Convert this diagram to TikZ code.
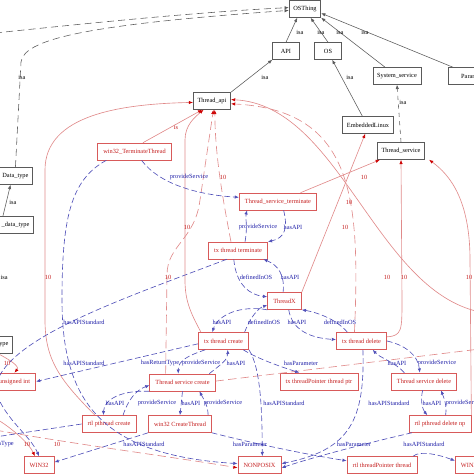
\documentclass[tikz,border=0pt]{standalone}
\usepackage{fontspec}
\setmainfont{Liberation Serif}
\usetikzlibrary{arrows.meta}

\definecolor{clsline}{HTML}{5A5A5A}
\definecolor{instline}{HTML}{D85A5A}
\definecolor{insttext}{HTML}{C41E1E}
\definecolor{relline}{HTML}{5050B8}
\definecolor{reltext}{HTML}{2020A8}
\definecolor{wtline}{HTML}{E08A8A}

\tikzset{
  tip/.style={-{Latex[length=3pt,width=2.4pt,color=#1]}},
  cls/.style={draw=clsline,line width=0.5pt,minimum height=12pt,minimum width=19pt,inner xsep=3pt,inner ysep=1pt},
  inst/.style={draw=instline,text=insttext,line width=0.5pt,minimum height=12pt,inner xsep=4pt,inner ysep=1pt},
  isa/.style={draw=clsline,line width=0.4pt,tip=clsline},
  rel/.style={draw=relline,line width=0.45pt,dash pattern=on 4pt off 2pt,tip=relline},
  wt/.style={draw=wtline,line width=0.45pt,tip=red!80!black},
  wtd/.style={wt,dash pattern=on 6pt off 3pt},
  blbl/.style={text=reltext,inner sep=0pt},
  rlbl/.style={text=insttext,inner sep=0pt},
  klbl/.style={text=black,inner sep=0pt},
}

\begin{document}
\begin{tikzpicture}[x=0.025cm,y=-0.025cm,every node/.style={font=\fontsize{4.5}{5}\selectfont}]
  \useasboundingbox (0,0) rectangle (474,474);

  % classes
  \node[cls,minimum width=22pt] (osthing) at (305,9) {OSThing};
  \node[cls] (api) at (286,51) {API};
  \node[cls] (os) at (328,51) {OS};
  \node[cls] (syssrv) at (397,76) {System\_service};
  \node[cls,minimum width=36pt] (param) at (474,76) {Parameter};
  \node[cls] (thrapi) at (212,101) {Thread\_api};
  \node[cls] (embl) at (368,125) {EmbeddedLinux};
  \node[cls] (thrsrv) at (401,151) {Thread\_service};
  \node[cls,anchor=east] (dtype) at (33,176) {Data\_type};
  \node[cls,anchor=east] (bdtype) at (34,225) {\_data\_type};
  \node[cls,anchor=east,text width=22pt,align=right] (rtype) at (13,345) {ype};

  % instances
  \node[inst] (w32term) at (134.5,151.5) {win32\_TerminateThread};
  \node[inst] (tsterm) at (278,201.5) {Thread\_service\_terminate};
  \node[inst] (txterm) at (238,250.5) {tx thread terminate};
  \node[inst] (threadx) at (284.5,301) {ThreadX};
  \node[inst] (txcreate) at (223.5,341) {tx thread create};
  \node[inst] (txdelete) at (361.5,341) {tx thread delete};
  \node[inst] (tscreate) at (182.5,382.5) {Thread service create};
  \node[inst] (txptr) at (319,381.5) {tx threadPointer thread ptr};
  \node[inst] (tsdelete) at (424,381.5) {Thread service delete};
  \node[inst,anchor=east] (uint) at (36,381.5) {unsigned int};
  \node[inst] (rtlcreate) at (109,424) {rtl pthread create};
  \node[inst] (w32create) at (180,424) {win32 CreateThread};
  \node[inst] (rtldelete) at (440,424) {rtl pthread delete np};
  \node[inst] (win32a) at (39,465) {WIN32};
  \node[inst] (nonposix) at (259.5,465) {NONPOSIX};
  \node[inst] (rtlptr) at (382,465) {rtl threadPointer thread};
  \node[inst,anchor=west] (win32b) at (455,465) {WIN32};

  \coordinate (offl1) at (-5,33);
  \coordinate (offl2) at (-5,437);
  \coordinate (offl3) at (-5,418);
  \coordinate (offl4) at (-5,430);
  \coordinate (offl5) at (-5,352);
  \coordinate (offr1) at (480,312);
  \coordinate (offr2) at (480,349);

  % isa
  \draw[isa] (api.north) -- ([xshift=-5.5pt]osthing.south);
  \draw[isa] (os.north) -- ([xshift=4pt]osthing.south);
  \draw[isa] ([xshift=-8.5pt]syssrv.north) -- (osthing.south east);
  \draw[isa] ([xshift=-15pt]param.north) -- ([yshift=-3pt]osthing.east);
  \draw[isa] (thrapi.north east) -- (api.south west);
  \draw[isa] ([xshift=-4pt]embl.north) -- ([xshift=3pt]os.south);
  \draw[isa,dashed] (thrsrv.north) -- (syssrv.south);
  \draw[isa,dash pattern=on 5pt off 3pt] (dtype.north) -- (21,62) .. controls (24,40) and (80,25) .. ([yshift=-1pt]osthing.west);
  \draw[isa,dash pattern=on 5pt off 3pt] (offl1) .. controls (100,22) and (200,12) .. ([yshift=1pt]osthing.west);
  \draw[isa] ([xshift=-9pt]bdtype.north) -- ([xshift=-3.5pt]dtype.south);

  % weights
  \draw[wt] ([xshift=6pt]w32term.north) -- ([xshift=-7pt]thrapi.south);
  \draw[wt] ([xshift=-10pt]rtlcreate.north) .. controls (60,380) and (45,360) .. (45,320) -- (45,170) .. controls (45,115) and (120,104) .. ([yshift=-1pt]thrapi.west);
  \draw[wt] ([xshift=-16pt]txcreate.north) .. controls (190,312) and (185,300) .. (185,280) -- (185,140) .. controls (185,125) and (195,117) .. ([xshift=-6pt]thrapi.south);
  \draw[wtd] ([xshift=-12pt]tscreate.north) -- (167,275) .. controls (167,245) and (195,240) .. (200,200) -- ([xshift=1pt]thrapi.south);
  \draw[wtd] ([xshift=-5pt]txterm.north) .. controls (225,210) and (215,160) .. ([xshift=2pt]thrapi.south);
  \draw[wtd] ([xshift=-5pt]txdelete.north) .. controls (360,200) and (355,110) .. ([yshift=-2pt]thrapi.east);
  \draw[wt] (offr1) .. controls (375,290) and (340,105) .. ([yshift=1pt]thrapi.east);
  \draw[wt] ([xshift=16pt]tsterm.north) -- ([xshift=-15pt]thrsrv.south);
  \draw[wt] ([yshift=3pt]txdelete.east) .. controls (402,336) and (402,330) .. (402,300) -- (thrsrv.south);
  \draw[wt] (rtldelete.north east) -- (470,260) .. controls (470,200) and (450,175) .. ([xshift=20pt]thrsrv.south);
  \draw[wt] (threadx.north east) -- ([xshift=-2pt]embl.south);
  \draw[wtd,-] ([yshift=1pt]tscreate.east) -- (offr2);
  \draw[wt] (offl3) .. controls (15,430) and (30,445) .. ([xshift=-3pt]win32a.north);
  \draw[wtd] (offl4) .. controls (80,445) and (180,458) .. ([yshift=-2pt]nonposix.west);
  \draw[wt] (offl5) .. controls (10,360) and (20,366) .. (uint.north);

  % relations
  \draw[rel] ([xshift=5pt]w32term.south) .. controls (160,185) and (200,195) .. ([yshift=3pt]tsterm.west);
  \draw[rel] ([xshift=-20pt]w32term.south) .. controls (70,180) and (62,220) .. (62,300) .. controls (62,400) and (100,455) .. ([yshift=1pt]nonposix.west);
  \draw[rel] ([xshift=-8pt]txterm.south) .. controls (120,300) and (0,340) .. (-5,390) .. controls (5,420) and (30,435) .. (win32a.north);
  \draw[rel] ([xshift=5pt]txterm.north) .. controls (248,225) and (245,218) .. ([xshift=-22pt]tsterm.south);
  \draw[rel] ([xshift=4pt]tsterm.south) .. controls (288,228) and (285,238) .. (txterm.north east);
  \draw[rel] ([xshift=-3pt]txterm.south) .. controls (236,285) and (250,295) .. ([yshift=3pt]threadx.west);
  \draw[rel] ([xshift=-1pt]threadx.north) .. controls (285,275) and (278,265) .. ([xshift=18pt]txterm.south);
  \draw[rel] (threadx.south west) .. controls (240,305) and (218,315) .. ([xshift=-8pt]txcreate.north);
  \draw[rel] ([xshift=15pt]txcreate.north) .. controls (250,318) and (258,308) .. ([yshift=-3pt]threadx.west);
  \draw[rel] ([xshift=3pt]threadx.south) .. controls (292,330) and (310,338) .. ([yshift=1pt]txdelete.west);
  \draw[rel] ([xshift=-10pt]txdelete.north) .. controls (335,318) and (315,312) .. (threadx.south east);
  \draw[rel] ([xshift=19pt]tscreate.north) .. controls (220,365) and (228,360) .. ([xshift=3pt]txcreate.south);
  \draw[rel] ([xshift=-13pt]txcreate.south) .. controls (190,355) and (178,360) .. ([xshift=-3pt]tscreate.north);
  \draw[rel] ([yshift=-2pt]txcreate.west) -- (uint.east);
  \draw[rel] ([xshift=14pt]txcreate.south) .. controls (260,360) and (285,368) .. ([xshift=-14pt]txptr.north);
  \draw[rel] ([xshift=10pt]rtlcreate.north) .. controls (128,400) and (136,390) .. ([yshift=-2pt]tscreate.west);
  \draw[rel] (tscreate.south west) .. controls (120,390) and (104,400) .. ([xshift=-4pt]rtlcreate.north);
  \draw[rel] (tscreate.south) -- (w32create.north);
  \draw[rel] ([xshift=20pt]w32create.north) .. controls (208,405) and (203,398) .. ([xshift=12pt]tscreate.south);
  \draw[rel] (rtlcreate.west) -- (offl2);
  \draw[rel] (w32create.south west) -- ([yshift=2pt]win32a.east);
  \draw[rel] (w32create.south east) .. controls (260,445) and (310,455) .. ([yshift=3pt]rtlptr.west);
  \draw[rel] (txcreate.south east) .. controls (262,370) and (262,420) .. ([xshift=2pt]nonposix.north);
  \draw[rel] ([xshift=1pt]txdelete.south) .. controls (365,420) and (350,450) .. ([yshift=1pt]nonposix.east);
  \draw[rel] ([xshift=-14pt]tsdelete.north) .. controls (395,362) and (380,358) .. ([xshift=8pt]txdelete.south);
  \draw[rel] (txdelete.east) .. controls (405,345) and (418,355) .. ([xshift=-3pt]tsdelete.north);
  \draw[rel] ([xshift=-1pt]tsdelete.south) .. controls (420,402) and (423,410) .. ([xshift=-9pt]rtldelete.north);
  \draw[rel] ([xshift=4pt]rtldelete.north) .. controls (447,405) and (444,398) .. ([xshift=12pt]tsdelete.south);
  \draw[rel] ([xshift=-20pt]rtldelete.south) .. controls (380,440) and (320,455) .. ([yshift=-2pt]nonposix.east);
  \draw[rel] ([xshift=-3pt]rtlptr.north east) .. controls (420,450) and (440,455) .. ([yshift=3pt]win32b.west);

  % labels
  \foreach \x/\y/\t [count=\i] in {189/177/provideService, 258/227/provideService, 293/227/hasAPI,
      256/277/definedInOS, 290/277/hasAPI, 84/322/hasAPIStandard, 222/322/hasAPI, 264/322/definedInOS,
      297/322/hasAPI, 340/322/definedInOS, 84/363/hasAPIStandard, 160/363/hasReturnType,
      201/363/provideService, 236/363/hasAPI, 301/363/hasParameter, 397/363/hasAPI, 437/363/provideService,
      115/403/hasAPI, 157/403/provideService, 191/403/hasAPI, 223/403/provideService,
      284/403/hasAPIStandard, 389/403/hasAPIStandard, 432/403/hasAPI, 465/403/provideService,
      144/444/hasAPIStandard, 250/444/hasParameter, 354/444/hasParameter, 424/444/hasAPIStandard}
    \node[blbl] (bl\i) at (\x,\y) {\t};
  \node[blbl,anchor=east] (blx) at (14,444) {hasReturnType};
  \foreach \x/\y/\t [count=\i] in {176/127/is, 223/177/10, 187/227/10, 168/277/10, 48/277/10,
      364/177/10, 349/202/10, 345/227/10, 387/277/10, 404/277/10, 469/277/10, 7/363/10,
      27/444/10, 57/444/10}
    \node[rlbl] (rl\i) at (\x,\y) {\t};
  \foreach \x/\y/\t [count=\i] in {300/32/isa, 321/32/isa, 340/32/isa, 365/32/isa, 265/77/isa,
      350/77/isa, 403/102/isa, 22/77/isa, 13/202/isa}
    \node[klbl] (kl\i) at (\x,\y) {\t};
  \node[klbl,anchor=east] (klx) at (8,277) {isa};
\end{tikzpicture}
\end{document}
